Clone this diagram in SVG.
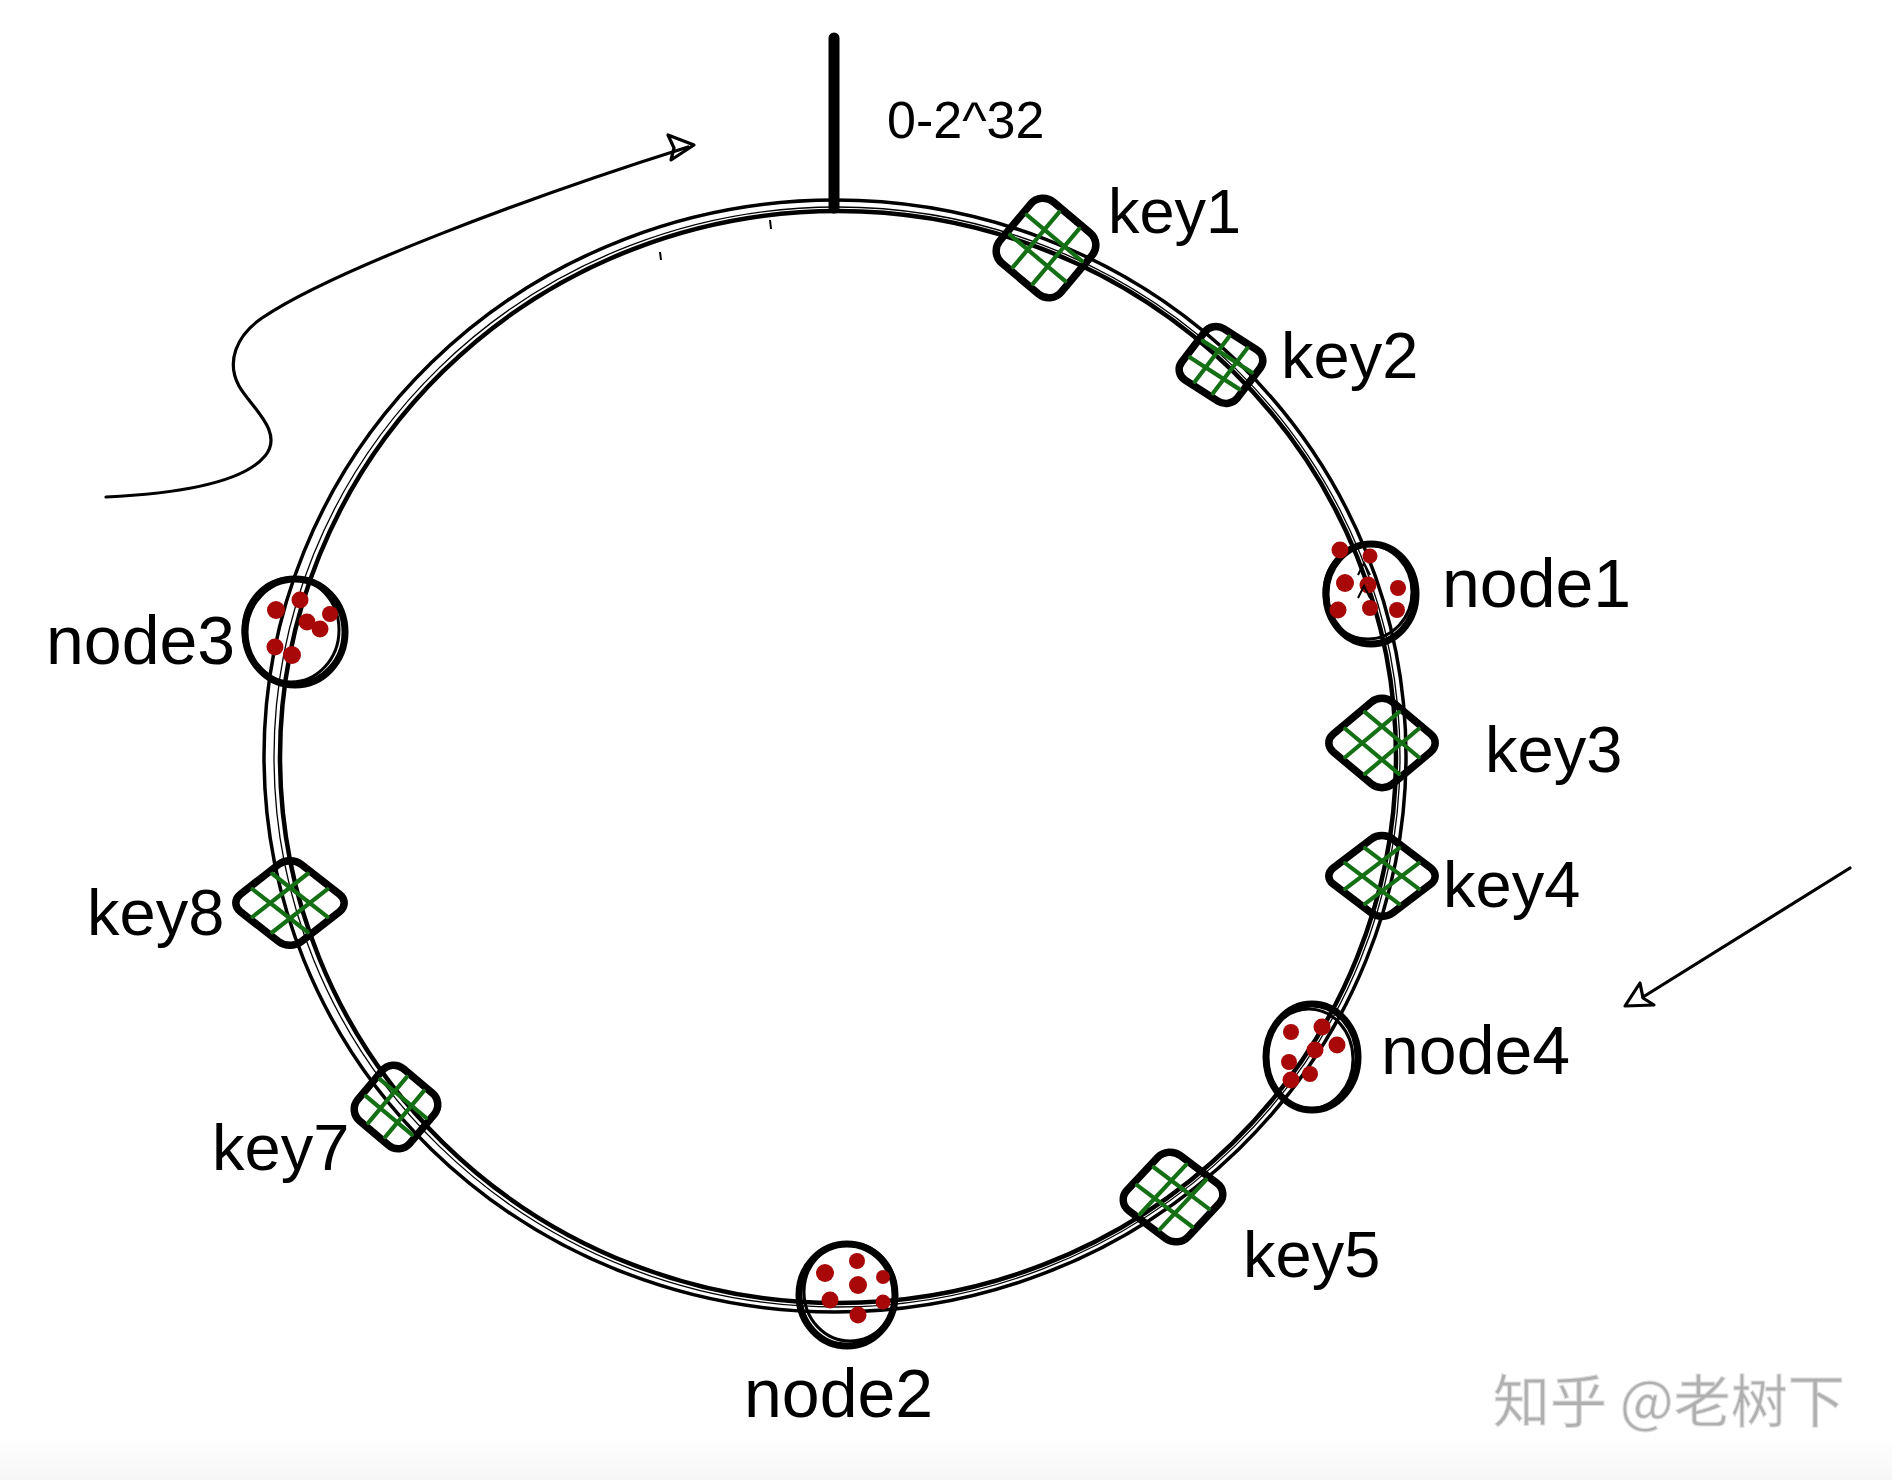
<svg xmlns="http://www.w3.org/2000/svg" width="1892" height="1480" viewBox="0 0 1892 1480">
<defs>
<linearGradient id="bottomFade" x1="0" y1="0" x2="0" y2="1">
<stop offset="0" stop-color="#ffffff"/>
<stop offset="1" stop-color="#f6f6f6"/>
</linearGradient>
<style>
.ring{fill:none;stroke:#000;stroke-linecap:round}
.keybox{fill:none;stroke:#000;stroke-width:7.5;vector-effect:non-scaling-stroke}
.hatch{stroke:#157015;stroke-width:4.2;stroke-linecap:round;vector-effect:non-scaling-stroke}
.nodec{fill:none;stroke:#000;stroke-width:7}
.nodec2{fill:none;stroke:#000;stroke-width:3}
.dot{fill:#a80808}
.lbl{font-family:"Liberation Sans",Arial,Helvetica,sans-serif;fill:#000}
.arrow{fill:none;stroke:#000;stroke-width:3.2;stroke-linecap:round;stroke-linejoin:round}
.wm{font-family:"Noto Sans CJK SC","Noto Sans",sans-serif;font-size:57px;fill:#b0b0b0;stroke:#e0e0e0;stroke-width:1}
</style>
</defs>
<rect x="0" y="0" width="1892" height="1480" fill="#ffffff"/>
<rect x="0" y="1436" width="1892" height="44" fill="url(#bottomFade)"/>

<g id="ring">
<ellipse class="ring" cx="838" cy="757" rx="558" ry="546" stroke-width="4.5"/>
<ellipse class="ring" cx="835" cy="756" rx="571" ry="556" stroke-width="3.5"/>
<ellipse class="ring" cx="837" cy="757" rx="563" ry="550" stroke-width="1.3"/>
<line x1="834" y1="38" x2="834" y2="208" stroke="#000" stroke-width="11" stroke-linecap="round"/>
<path d="M770 220 l1 9 M660 252 l1 8" stroke="#000" stroke-width="2" fill="none"/>
</g>

<g id="connectors">
<path class="arrow" d="M106 497 C190 493 245 480 265 456 C285 432 250 406 239 386 C226 362 236 336 262 318 C330 272 520 200 688 147"/>
<path class="arrow" d="M694 145 L668 135 L674 148 L671 160 Z"/>
<path class="arrow" d="M1850 868 L1643 997"/>
<path class="arrow" d="M1625 1006 L1640 983 L1643 998 L1654 1005 Z"/>
</g>

<text class="lbl" x="887" y="138" font-size="52">0-2^32</text>

<g id="key1">
<g transform="translate(1046,248) rotate(40)">
<rect class="keybox" x="-40" y="-40" width="80" height="80" rx="16"/>
<path class="hatch" d="M-13 -36 V36 M13 -36 V36 M-36 -13 H36 M-36 13 H36"/>
</g>
<text class="lbl" x="1108" y="233" font-size="63">key1</text>
</g>

<g id="key2">
<g transform="translate(1221,365) scale(1,0.92) rotate(35)">
<rect class="keybox" x="-34" y="-34" width="68" height="68" rx="14"/>
<path class="hatch" d="M-11 -30 V30 M11 -30 V30 M-30 -11 H30 M-30 11 H30"/>
</g>
<text class="lbl" x="1281" y="378" font-size="65">key2</text>
</g>

<g id="node1">
<ellipse class="nodec" cx="1371" cy="594" rx="45" ry="50"/>
<ellipse class="nodec2" cx="1368" cy="592" rx="44" ry="47"/>
<circle class="dot" cx="1340" cy="550" r="8.5"/>
<circle class="dot" cx="1370" cy="556" r="7.5"/>
<circle class="dot" cx="1345" cy="583" r="9"/>
<circle class="dot" cx="1368" cy="585" r="8.5"/>
<circle class="dot" cx="1398" cy="588" r="8"/>
<circle class="dot" cx="1338" cy="610" r="8.5"/>
<circle class="dot" cx="1370" cy="608" r="8"/>
<circle class="dot" cx="1397" cy="610" r="8"/>
<path d="M1358 575 l6 -12 l6 12 M1358 598 l6 -12 l6 12" stroke="#000" stroke-width="2" fill="none"/>
<text class="lbl" x="1442" y="607" font-size="68">node1</text>
</g>

<g id="key3">
<g transform="translate(1382,743) scale(1,0.84) rotate(45)">
<rect class="keybox" x="-42" y="-42" width="84" height="84" rx="15"/>
<path class="hatch" d="M-14 -38 V38 M14 -38 V38 M-38 -14 H38 M-38 14 H38"/>
</g>
<text class="lbl" x="1485" y="772" font-size="65">key3</text>
</g>

<g id="key4">
<g transform="translate(1382,876) scale(1,0.76) rotate(45)">
<rect class="keybox" x="-42" y="-42" width="84" height="84" rx="15"/>
<path class="hatch" d="M-14 -38 V38 M14 -38 V38 M-38 -14 H38 M-38 14 H38"/>
</g>
<text class="lbl" x="1443" y="907" font-size="65">key4</text>
</g>

<g id="node4">
<ellipse class="nodec" cx="1312" cy="1057" rx="46" ry="53"/>
<ellipse class="nodec2" cx="1309" cy="1059" rx="44" ry="50"/>
<circle class="dot" cx="1291" cy="1032" r="8"/>
<circle class="dot" cx="1322" cy="1027" r="8.5"/>
<circle class="dot" cx="1337" cy="1045" r="8.5"/>
<circle class="dot" cx="1315" cy="1050" r="8.5"/>
<circle class="dot" cx="1289" cy="1062" r="8"/>
<circle class="dot" cx="1291" cy="1080" r="8.5"/>
<circle class="dot" cx="1310" cy="1074" r="8"/>
<text class="lbl" x="1381" y="1074" font-size="68">node4</text>
</g>

<g id="key5">
<g transform="translate(1173,1197) scale(1,0.9) rotate(40)">
<rect class="keybox" x="-40" y="-40" width="80" height="80" rx="16"/>
<path class="hatch" d="M-13 -36 V36 M13 -36 V36 M-36 -13 H36 M-36 13 H36"/>
</g>
<text class="lbl" x="1243" y="1277" font-size="65">key5</text>
</g>

<g id="node2">
<ellipse class="nodec" cx="847" cy="1295" rx="48" ry="51"/>
<ellipse class="nodec2" cx="850" cy="1292" rx="46" ry="49"/>
<circle class="dot" cx="825" cy="1273" r="9"/>
<circle class="dot" cx="857" cy="1261" r="8"/>
<circle class="dot" cx="858" cy="1285" r="9"/>
<circle class="dot" cx="883" cy="1277" r="7"/>
<circle class="dot" cx="830" cy="1300" r="8.5"/>
<circle class="dot" cx="858" cy="1315" r="8.5"/>
<circle class="dot" cx="883" cy="1302" r="7.5"/>
<text class="lbl" x="744" y="1417" font-size="68">node2</text>
</g>

<g id="key7">
<g transform="translate(396,1107) rotate(40)">
<rect class="keybox" x="-34" y="-34" width="68" height="68" rx="15"/>
<path class="hatch" d="M-11 -30 V30 M11 -30 V30 M-30 -11 H30 M-30 11 H30"/>
</g>
<text class="lbl" x="212" y="1170" font-size="65">key7</text>
</g>

<g id="key8">
<g transform="translate(290,903) scale(1,0.78) rotate(45)">
<rect class="keybox" x="-43" y="-43" width="86" height="86" rx="16"/>
<path class="hatch" d="M-14 -39 V39 M14 -39 V39 M-39 -14 H39 M-39 14 H39"/>
</g>
<text class="lbl" x="87" y="935" font-size="65">key8</text>
</g>

<g id="node3">
<ellipse class="nodec" cx="295" cy="632" rx="50" ry="53"/>
<ellipse class="nodec2" cx="291" cy="630" rx="48" ry="52"/>
<circle class="dot" cx="276" cy="610" r="9"/>
<circle class="dot" cx="300" cy="600" r="8.5"/>
<circle class="dot" cx="330" cy="614" r="8"/>
<circle class="dot" cx="307" cy="622" r="8.5"/>
<circle class="dot" cx="320" cy="629" r="8.5"/>
<circle class="dot" cx="275" cy="647" r="8.5"/>
<circle class="dot" cx="292" cy="655" r="9"/>
<text class="lbl" x="46" y="664" font-size="68">node3</text>
</g>

<text class="wm" x="1493" y="1422">知乎 @老树下</text>
</svg>
